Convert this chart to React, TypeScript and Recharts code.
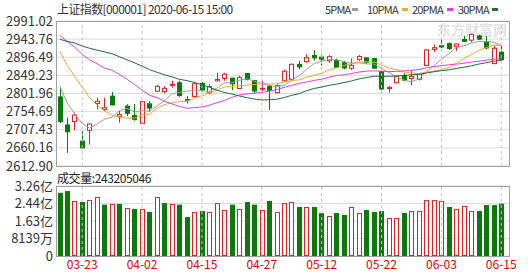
import React from "react";
import {
  ComposedChart,
  Bar,
  Line,
  XAxis,
  YAxis,
  CartesianGrid,
  ReferenceLine,
} from "recharts";

const FONT = "'Noto Sans CJK SC', 'Liberation Sans', sans-serif";
const RED = "#dd2222";
const GREEN = "#0b7a0b";
const GRID = "#dadada";
const DASH = "#c4c4c4";
const BORDER = "#a0a0a0";

const titleName = "上证指数[000001]";
const titleTime = "2020-06-15 15:00";
const volLabel = "成交量";

const dates = [
  "03-18", "03-19", "03-20", "03-23", "03-24", "03-25", "03-26", "03-27", "03-30", "03-31",
  "04-01", "04-02", "04-03", "04-07", "04-08", "04-09", "04-10", "04-13", "04-14", "04-15",
  "04-16", "04-17", "04-20", "04-21", "04-22", "04-23", "04-24", "04-27", "04-28", "04-29",
  "04-30", "05-06", "05-07", "05-08", "05-11", "05-12", "05-13", "05-14", "05-15", "05-18",
  "05-19", "05-20", "05-21", "05-22", "05-25", "05-26", "05-27", "05-28", "05-29", "06-01",
  "06-02", "06-03", "06-04", "06-05", "06-08", "06-09", "06-10", "06-11", "06-12", "06-15",
];

const opens = [
  2793, 2720, 2729, 2678, 2706, 2776, 2760, 2795, 2742, 2769,
  2745, 2724, 2775, 2808, 2807, 2823, 2830, 2786, 2794, 2828,
  2804, 2835, 2841, 2842, 2815, 2854, 2836, 2813, 2821, 2804,
  2835, 2839, 2878, 2885, 2901, 2897, 2887, 2888, 2882, 2868,
  2891, 2895, 2893, 2859, 2815, 2830, 2849, 2841, 2839, 2875,
  2917, 2927, 2932, 2924, 2943, 2941, 2952, 2936, 2880, 2910,
];
const highs = [
  2819, 2739, 2752, 2704, 2724, 2791, 2791, 2806, 2756, 2774,
  2774, 2782, 2782, 2825, 2821, 2835, 2835, 2795, 2832, 2832,
  2826, 2856, 2856, 2843, 2848, 2855, 2837, 2835, 2823, 2826,
  2864, 2880, 2887, 2904, 2915, 2904, 2902, 2893, 2887, 2893,
  2902, 2896, 2893, 2861, 2822, 2849, 2855, 2861, 2855, 2918,
  2930, 2943, 2935, 2932, 2952, 2958, 2956, 2952, 2926, 2926,
];
const lows = [
  2725, 2647, 2706, 2658, 2669, 2761, 2756, 2771, 2726, 2743,
  2731, 2722, 2755, 2806, 2802, 2817, 2793, 2776, 2791, 2808,
  2800, 2834, 2835, 2811, 2813, 2836, 2802, 2808, 2759, 2802,
  2833, 2835, 2865, 2882, 2888, 2875, 2882, 2868, 2865, 2863,
  2887, 2880, 2866, 2811, 2804, 2828, 2834, 2823, 2836, 2874,
  2910, 2920, 2915, 2913, 2936, 2935, 2941, 2917, 2878, 2888,
];
const closes = [
  2728.76, 2702.13, 2745.62, 2660.17, 2722.44, 2781.59, 2764.91, 2772.2, 2747.21, 2750.3,
  2734.52, 2780.64, 2763.99, 2820.76, 2815.37, 2825.9, 2796.63, 2783.05, 2827.28, 2811.17,
  2819.94, 2838.49, 2852.55, 2827.01, 2843.98, 2838.5, 2808.53, 2815.49, 2810.02, 2822.44,
  2860.08, 2878.14, 2871.52, 2895.34, 2894.8, 2891.56, 2898.05, 2870.34, 2868.46, 2875.42,
  2898.58, 2883.74, 2867.92, 2813.77, 2817.97, 2846.55, 2836.8, 2846.22, 2852.35, 2915.43,
  2921.4, 2923.37, 2919.25, 2930.8, 2937.77, 2956.11, 2943.75, 2920.9, 2919.74, 2890.03,
];
const prevClose = 2779.64;

const volumes = [
  294000000, 302000000, 256000000, 251000000, 260000000, 274000000, 239000000, 242000000, 242000000, 223000000,
  219000000, 219000000, 205000000, 274000000, 246000000, 242000000, 239000000, 181000000, 205000000, 209000000,
  205000000, 246000000, 214000000, 239000000, 219000000, 251000000, 239000000, 214000000, 256000000, 205000000,
  246000000, 251000000, 228000000, 228000000, 228000000, 200000000, 186000000, 200000000, 191000000, 228000000,
  200000000, 214000000, 205000000, 209000000, 177000000, 177000000, 200000000, 209000000, 209000000, 260000000,
  260000000, 256000000, 228000000, 219000000, 233000000, 209000000, 209000000, 237000000, 237000000, 243205046,
];

const ma5 = [
  2821.6, 2777.4, 2749.2, 2723.4, 2711.8, 2722.4, 2735.0, 2740.2, 2757.6, 2763.2,
  2753.8, 2757.0, 2755.4, 2770.2, 2783.2, 2801.4, 2804.6, 2808.4, 2809.6, 2808.8,
  2807.6, 2815.8, 2829.8, 2829.8, 2836.4, 2840.2, 2834.4, 2826.8, 2823.4, 2819.0,
  2823.2, 2837.0, 2848.4, 2865.4, 2880.0, 2886.4, 2890.4, 2890.0, 2884.6, 2880.6,
  2882.0, 2879.2, 2878.8, 2868.0, 2856.6, 2846.2, 2836.8, 2832.4, 2840.0, 2859.4,
  2874.2, 2891.4, 2906.0, 2921.8, 2926.4, 2933.4, 2937.6, 2938.0, 2935.8, 2926.2,
];
const ma10 = [
  2912.4, 2875.4, 2846.5, 2818.2, 2790.7, 2772.0, 2756.2, 2744.7, 2740.5, 2737.5,
  2738.1, 2746.0, 2747.8, 2763.9, 2773.2, 2777.6, 2780.8, 2781.9, 2789.9, 2796.0,
  2804.5, 2810.2, 2819.1, 2819.7, 2822.6, 2823.9, 2825.1, 2828.3, 2826.6, 2827.7,
  2831.7, 2835.7, 2837.6, 2844.4, 2849.5, 2854.8, 2863.7, 2869.2, 2875.0, 2880.3,
  2884.2, 2884.8, 2884.4, 2876.3, 2868.6, 2864.1, 2858.0, 2855.6, 2854.0, 2858.0,
  2860.2, 2864.1, 2869.2, 2880.9, 2892.9, 2903.8, 2914.5, 2922.0, 2928.8, 2926.3,
];
const ma20 = [
  2953.7, 2937.3, 2922.6, 2904.0, 2889.5, 2879.2, 2867.9, 2862.5, 2851.3, 2839.1,
  2825.3, 2810.7, 2797.2, 2791.1, 2782.0, 2774.8, 2768.5, 2763.3, 2765.2, 2766.8,
  2771.3, 2778.1, 2783.5, 2791.8, 2797.9, 2800.8, 2803.0, 2805.1, 2808.3, 2811.9,
  2818.1, 2823.0, 2828.4, 2832.1, 2836.1, 2839.4, 2844.4, 2848.8, 2850.8, 2854.0,
  2858.0, 2860.3, 2861.0, 2860.4, 2859.1, 2859.5, 2860.9, 2862.4, 2864.5, 2869.2,
  2872.2, 2874.5, 2876.8, 2878.6, 2880.8, 2884.0, 2886.3, 2888.8, 2891.4, 2892.2,
];
const ma30 = [
  2943.4, 2937.9, 2933.6, 2925.9, 2919.9, 2915.1, 2910.4, 2905.5, 2897.6, 2889.8,
  2881.8, 2873.5, 2864.3, 2857.3, 2850.7, 2845.3, 2838.8, 2835.6, 2830.8, 2824.7,
  2818.3, 2810.5, 2804.5, 2800.6, 2795.5, 2791.2, 2787.4, 2785.0, 2785.7, 2787.1,
  2791.4, 2797.3, 2801.5, 2809.3, 2815.1, 2818.8, 2823.2, 2826.5, 2830.5, 2834.7,
  2840.1, 2843.6, 2847.0, 2846.8, 2846.9, 2847.6, 2848.9, 2851.0, 2851.9, 2855.3,
  2858.7, 2861.5, 2863.7, 2867.2, 2870.3, 2874.2, 2878.7, 2882.3, 2885.9, 2888.2,
];

const priceTicks = [2991.02, 2943.76, 2896.49, 2849.23, 2801.96, 2754.69, 2707.43, 2660.16, 2612.9];
const volTicks = [0, 81390000, 162780000, 244170000, 325560000];
const dateTicks = ["03-23", "04-02", "04-15", "04-27", "05-12", "05-22", "06-03", "06-15"];

const maSeries = [
  { key: "ma5", name: "5PMA", color: "#9c9c9c" },
  { key: "ma10", name: "10PMA", color: "#f0a630" },
  { key: "ma20", name: "20PMA", color: "#e040e0" },
  { key: "ma30", name: "30PMA", color: "#1d6b3f" },
];

const data = dates.map((d, i) => ({
  date: d,
  open: opens[i],
  high: highs[i],
  low: lows[i],
  close: closes[i],
  range: [lows[i], highs[i]],
  vol: volumes[i],
  volUp: closes[i] >= (i ? closes[i - 1] : prevClose),
  ma5: ma5[i],
  ma10: ma10[i],
  ma20: ma20[i],
  ma30: ma30[i],
}));

function Candle(props: any) {
  const { x, y, width, height, payload } = props;
  const { open, close, high, low } = payload;
  const top0 = Math.min(y, y + height);
  const k = Math.abs(height) / (high - low || 1);
  const py = (v: number) => top0 + (high - v) * k;
  const cx = Math.round(x + width / 2) + 0.5;
  const up = close >= open;
  const color = up ? RED : GREEN;
  const bTop = py(Math.max(open, close));
  const bBot = py(Math.min(open, close));
  return (
    <g>
      <line x1={cx} x2={cx} y1={py(high)} y2={py(low)} stroke={color} />
      <rect
        x={cx - 2}
        y={bTop}
        width={4}
        height={Math.max(bBot - bTop, 0.8)}
        fill={up ? "#fff" : color}
        stroke={color}
      />
    </g>
  );
}

function VolBar(props: any) {
  const { x, y, width, height, payload } = props;
  const cx = Math.round(x + width / 2) + 0.5;
  const color = payload.volUp ? RED : GREEN;
  return (
    <rect
      x={cx - 2}
      y={y + 0.5}
      width={4}
      height={Math.max(height - 1, 0)}
      fill={payload.volUp ? "#fff" : color}
      stroke={color}
    />
  );
}

const fmtVol = (v: number) =>
  v === 0 ? "0" : v >= 1e8 ? (v / 1e8).toFixed(2) + "亿" : Math.round(v / 1e4) + "万";

const textBase: React.CSSProperties = {
  position: "absolute",
  fontSize: 12,
  lineHeight: "14px",
  whiteSpace: "nowrap",
  zIndex: 3,
};

export default function App() {
  const last = volumes[volumes.length - 1];
  return (
    <div
      style={{
        position: "absolute",
        left: 0,
        top: 0,
        width: 530,
        height: 276,
        background: "#fff",
        fontFamily: FONT,
        overflow: "hidden",
      }}
    >
      {/* watermark */}
      <div
        style={{
          position: "absolute",
          left: 437,
          top: 22,
          fontSize: 14,
          lineHeight: "14px",
          color: "#e2e2e2",
          fontWeight: 700,
          whiteSpace: "nowrap",
        }}
      >
        东方财富网
      </div>
      <div
        style={{
          position: "absolute",
          left: 447,
          top: 41,
          fontSize: 7,
          lineHeight: "8px",
          color: "#e8e8e8",
          whiteSpace: "nowrap",
        }}
      >
        eastmoney.com
      </div>

      <div style={{ position: "absolute", left: 0, top: 0 }}>
        <ComposedChart width={530} height={178} data={data} margin={{ top: 21, right: 21, bottom: 12, left: 0 }}>
          <CartesianGrid vertical={false} stroke={GRID} />
          <XAxis dataKey="date" hide padding={{ left: 0, right: 4 }} />
          <YAxis
            type="number"
            width={56}
            domain={[priceTicks[priceTicks.length - 1], priceTicks[0]]}
            ticks={priceTicks}
            allowDataOverflow
            interval={0}
            tickFormatter={(v: number) => v.toFixed(2)}
            tick={{ fill: "#333", fontSize: 13, fontFamily: FONT }}
            tickLine={false}
            axisLine={false}
            tickSize={0}
            tickMargin={3}
          />
          {dateTicks.map((d) => (
            <ReferenceLine key={d} x={d} stroke={DASH} strokeDasharray="3 3" />
          ))}
          <Bar dataKey="range" shape={<Candle />} isAnimationActive={false} barSize={5} />
          {maSeries.map((s) => (
            <Line
              key={s.key}
              type="linear"
              dataKey={s.key}
              stroke={s.color}
              strokeWidth={1}
              dot={false}
              isAnimationActive={false}
            />
          ))}
        </ComposedChart>
      </div>
      <div
        style={{
          position: "absolute",
          left: 56,
          top: 21,
          width: 454,
          height: 146,
          boxSizing: "border-box",
          border: `1px solid ${BORDER}`,
          pointerEvents: "none",
        }}
      />

      <div style={{ position: "absolute", left: 0, top: 172 }}>
        <ComposedChart width={530} height={104} data={data} margin={{ top: 14, right: 21, bottom: 0, left: 0 }}>
          <CartesianGrid vertical={false} stroke={GRID} />
          <XAxis
            dataKey="date"
            ticks={dateTicks}
            interval={0}
            padding={{ left: 0, right: 4 }}
            height={20}
            tick={{ fill: "#dd0000", fontSize: 12, fontFamily: FONT }}
            tickLine={false}
            axisLine={false}
            tickSize={0}
            tickMargin={4}
          />
          <YAxis
            type="number"
            width={56}
            domain={[0, volTicks[volTicks.length - 1]]}
            ticks={volTicks}
            interval={0}
            tickFormatter={fmtVol}
            tick={{ fill: "#333", fontSize: 13, fontFamily: FONT }}
            tickLine={false}
            axisLine={false}
            tickSize={0}
            tickMargin={3}
          />
          {dateTicks.map((d) => (
            <ReferenceLine key={d} x={d} stroke={DASH} strokeDasharray="3 3" />
          ))}
          <Bar dataKey="vol" shape={<VolBar />} isAnimationActive={false} barSize={5} />
        </ComposedChart>
      </div>
      <div
        style={{
          position: "absolute",
          left: 56,
          top: 186,
          width: 454,
          height: 71,
          boxSizing: "border-box",
          border: `1px solid ${BORDER}`,
          pointerEvents: "none",
        }}
      />

      <div style={{ ...textBase, left: 57, top: 2, color: "#333", letterSpacing: -0.6 }}>
        {titleName} {titleTime}
      </div>

      {maSeries.map((s, i) => (
        <div key={s.key} style={{ ...textBase, left: [325, 367, 412, 458][i], top: 2, color: "#333" }}>
          <span style={{ fontSize: 11, letterSpacing: -0.8 }}>{s.name}</span>
        </div>
      ))}
      {maSeries.map((s, i) => (
        <div
          key={s.key + "-mark"}
          style={{
            position: "absolute",
            left: [352, 402, 447, 492][i],
            top: 8,
            width: 6,
            height: 3,
            background: s.color,
            zIndex: 3,
          }}
        />
      ))}

      <div style={{ ...textBase, left: 57, top: 171, color: "#222", letterSpacing: -0.4 }}>
        {volLabel}:{last}
      </div>
    </div>
  );
}
